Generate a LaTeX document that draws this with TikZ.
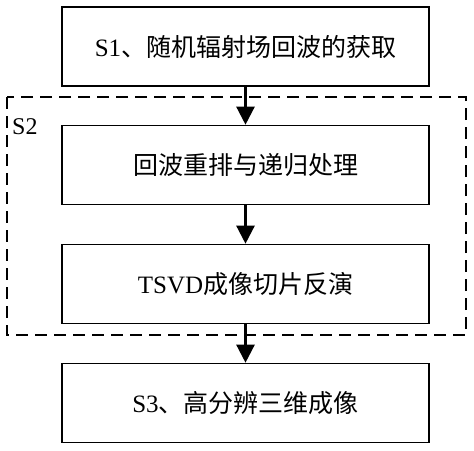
\documentclass[tikz,border=0pt]{standalone}
\usepackage{fontspec}
\setmainfont{Liberation Serif}
\newfontfamily\cjk{Noto Sans CJK SC}
\usetikzlibrary{arrows.meta}
\begin{document}
\begin{tikzpicture}[x=1pt,y=1pt,
  stepbox/.style={draw,line width=1.6pt,minimum width=367pt,minimum height=79pt,inner sep=0pt,font=\fontsize{25}{30}\selectfont},
  flow/.style={line width=2.4pt,-{Triangle[width=18pt,length=18pt]}}]
\useasboundingbox (0,0) rectangle (474,-450);
\node[stepbox] (s1) at (245.5,-46.5) {S1{\cjk 、随机辐射场回波的获取}};
\node[stepbox] (a) at (245.5,-165) {{\cjk 回波重排与递归处理}};
\node[stepbox] (b) at (245.5,-284) {TSVD{\cjk 成像切片反演}};
\node[stepbox] (s3) at (245.5,-403) {S3{\cjk 、高分辨三维成像}};
\draw[line width=1.6pt,dash pattern=on 12pt off 7pt] (7,-97) rectangle (466,-335);
\node[font=\fontsize{24}{28}\selectfont,anchor=west,inner sep=0pt] (s2) at (12,-127) {S2};
\draw[flow] (s1) -- (a);
\draw[flow] (a) -- (b);
\draw[flow] (b) -- (s3);
\end{tikzpicture}
\end{document}
